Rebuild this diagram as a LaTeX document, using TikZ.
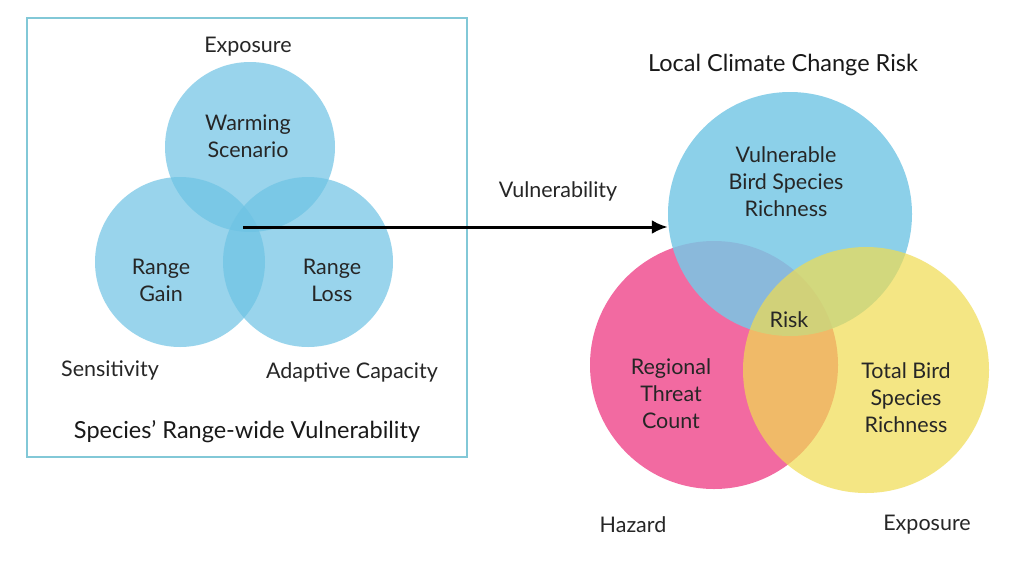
\documentclass[tikz,border=0pt]{standalone}
\usepackage{fontspec}
\setmainfont{Lato}
\usetikzlibrary{arrows.meta}
\begin{document}
\begin{tikzpicture}[x=1pt,y=-1pt,
  lbl/.style={font=\fontsize{21.5}{27}\selectfont, align=center, text=black!85},
  big/.style={font=\fontsize{23.5}{28}\selectfont, align=center, text=black!90},
  lc/.style={circle, fill=lb, fill opacity=0.7, minimum size=170pt, inner sep=0},
]
\definecolor{lb}{RGB}{110,195,228}
\definecolor{bl}{RGB}{120,200,230}
\definecolor{pk}{RGB}{240,80,145}
\definecolor{yl}{RGB}{240,220,80}
\definecolor{frame}{RGB}{130,200,215}
\useasboundingbox (0,0) rectangle (1028,560);
\fill[white] (0,0) rectangle (1028,560);
\node[draw=frame, line width=1.5pt, minimum width=440pt, minimum height=439pt, inner sep=0] (box) at (247,237.5) {};
\node[lc] (top) at (250,147) {};
\node[lc] (left) at (180,262) {};
\node[lc] (right) at (308,262) {};
\node[lbl] (exp1) at (248,47) {Exposure};
\node[lbl] (warm) at (248,136) {Warming\\Scenario};
\node[lbl] (gain) at (161,280) {Range\\Gain};
\node[lbl] (loss) at (332,280) {Range\\Loss};
\node[lbl] (sens) at (110,370) {Sensitivity};
\node[lbl] (adap) at (352,372) {Adaptive Capacity};
\node[big] (title1) at (247,432) {Species’ Range-wide Vulnerability};
\coordinate (src) at (243,227);
\node[circle, fill=pk, fill opacity=0.85, minimum size=248pt, inner sep=0] (pink) at (714,365) {};
\node[circle, fill=bl, fill opacity=0.85, minimum size=244pt, inner sep=0] (blue) at (790,214) {};
\node[circle, fill=yl, fill opacity=0.7, minimum size=246pt, inner sep=0] (yellow) at (866,370) {};
\draw[line width=3pt, -{Latex[length=16pt,width=14pt]}] (src) -- (blue.west |- src) coordinate (dst);
\node[lbl] (vul) at (558,191) {Vulnerability};
\node[big] (title2) at (783,65) {Local Climate Change Risk};
\node[lbl] (vbsr) at (786,182) {Vulnerable\\Bird Species\\Richness};
\node[lbl] (risk) at (789,320) {Risk};
\node[lbl] (rtc) at (671,394) {Regional\\Threat\\Count};
\node[lbl] (tbsr) at (906,398) {Total Bird\\Species\\Richness};
\node[lbl] (haz) at (633,525) {Hazard};
\node[lbl] (exp2) at (927,525) {Exposure};
\end{tikzpicture}
\end{document}
